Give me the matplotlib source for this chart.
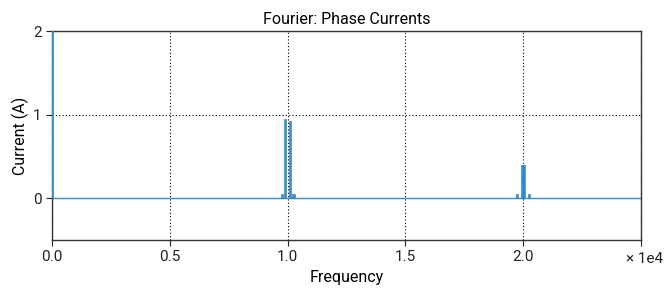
"""
Fourier spectrum of phase currents
"""
import matplotlib
matplotlib.use("Agg")
import matplotlib.pyplot as plt

plt.rcParams['font.family'] = ['Roboto', 'DejaVu Sans']

BAR_COLOR = "#1e9bf0"
EDGE_COLOR = "#4a6a90"

# spectrum bins with non-zero amplitude (Hz, A)
freqs = [0, 9750, 9900, 10100, 10250, 19750, 19950, 20050, 20250]
amps = [2.05, 0.05, 0.95, 0.93, 0.05, 0.05, 0.40, 0.40, 0.05]

x_ticks = [0, 5000, 10000, 15000, 20000, 25000]
x_labels = ["0.0", "0.5", "1.0", "1.5", "2.0", ""]
y_ticks = [0, 1, 2]

fig = plt.figure(figsize=(6.67, 2.96), dpi=100)
ax = fig.add_axes([0.078, 0.189, 0.883, 0.706])

ax.plot([0, 25000], [0, 0], color="#3d8fd0", linewidth=1.0, zorder=2)
ax.bar(freqs, amps, width=90, color=BAR_COLOR, edgecolor=EDGE_COLOR,
       linewidth=0.4, zorder=3)

ax.set_xlim(0, 25000)
ax.set_ylim(-0.5, 2)
ax.set_xticks(x_ticks)
ax.set_xticklabels(x_labels)
ax.set_yticks(y_ticks)
ax.grid(True, color="black", linestyle=(0, (1, 2)), linewidth=0.8)
ax.tick_params(direction="out", length=4, labelsize=11, colors="#222222")
for spine in ax.spines.values():
    spine.set_color("#333333")
    spine.set_linewidth(1)

ax.set_title("Fourier: Phase Currents", fontsize=11.5, pad=5)
ax.set_xlabel("Frequency", fontsize=11.5, labelpad=4)
ax.set_ylabel("Current (A)", fontsize=11.5, labelpad=3)
fig.text(0.994, 0.11, "× 1e4", ha="right", fontsize=11, color="#222222")

fig.savefig("out.png", dpi=100)
